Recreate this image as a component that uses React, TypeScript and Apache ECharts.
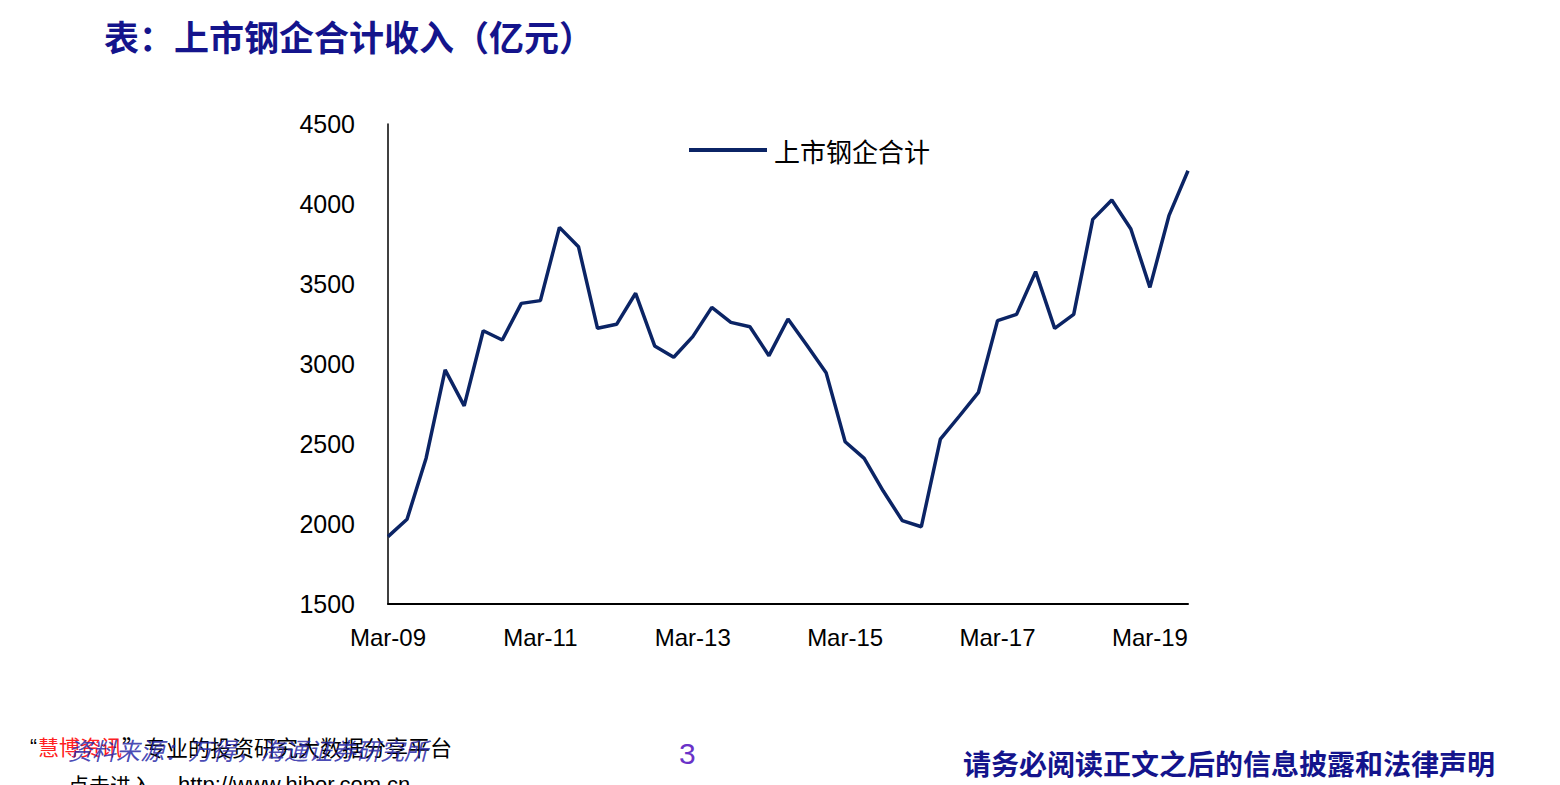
import React, { useEffect, useRef } from "react";
import * as echarts from "echarts";

const months = ["Mar", "Jun", "Sep", "Dec"];
const categories: string[] = [];
for (let y = 9; y <= 19; y++) {
  for (const m of months) {
    categories.push(`${m}-${String(y).padStart(2, "0")}`);
  }
}
categories.splice(43);

const seriesName = "上市钢企合计";
const revenue = [
  1921, 2030, 2411, 2963, 2738, 3208, 3150, 3379, 3396, 3854, 3733, 3223,
  3248, 3442, 3113, 3042, 3171, 3354, 3260, 3233, 3052, 3281, 3115, 2946,
  2514, 2410, 2206, 2021, 1983, 2531, 2675, 2823, 3271, 3310, 3577, 3223,
  3310, 3904, 4025, 3844, 3479, 3927, 4208,
];

const titleText = "表：上市钢企合计收入（亿元）";
const footerRight = "请务必阅读正文之后的信息披露和法律声明";
const pageNo = "3";
const sourceText = "资料来源：万得，海通证券研究所";

export default function App() {
  const ref = useRef<HTMLDivElement>(null);
  useEffect(() => {
    if (!ref.current) return;
    const chart = echarts.init(ref.current, null, { renderer: "svg" });
    const cjk = "'Noto Sans CJK SC', sans-serif";
    const latin = "'Liberation Sans', Arial, sans-serif";
    chart.setOption({
      animation: false,
      backgroundColor: "#ffffff",
      grid: { left: 388, right: 372, top: 124, bottom: 181 },
      legend: {
        left: 684,
        top: 132,
        icon: "rect",
        itemWidth: 78,
        itemHeight: 4,
        itemGap: 10,
        data: [seriesName],
        textStyle: { fontSize: 26, color: "#000", fontFamily: cjk, padding: [0, 0, 0, 2] },
      },
      xAxis: {
        type: "category",
        data: categories,
        boundaryGap: false,
        axisLine: { show: true, lineStyle: { color: "#000", width: 2 } },
        axisTick: { show: false },
        axisLabel: {
          interval: 7,
          fontSize: 24,
          color: "#000",
          margin: 21,
          fontFamily: latin,
        },
        splitLine: { show: false },
      },
      yAxis: {
        type: "value",
        min: 1500,
        max: 4500,
        interval: 500,
        axisLine: { show: true, lineStyle: { color: "#000", width: 1.5 } },
        axisTick: { show: false },
        axisLabel: {
          fontSize: 25,
          color: "#000",
          margin: 33,
          fontFamily: latin,
          formatter: (v: number) => String(v),
        },
        splitLine: { show: false },
      },
      series: [
        {
          name: seriesName,
          type: "line",
          data: revenue,
          symbol: "none",
          itemStyle: { color: "#0b2465" },
          lineStyle: { color: "#0b2465", width: 3.5 },
        },
      ],
      graphic: [
        {
          type: "text",
          left: 104,
          top: 18,
          style: {
            text: titleText,
            fontSize: 35,
            fontWeight: "bold",
            fill: "#14148c",
            fontFamily: cjk,
          },
        },
        {
          type: "text",
          left: 30,
          top: 735,
          style: {
            text: "“",
            fontSize: 21,
            fill: "#000",
            fontFamily: latin,
          },
        },
        {
          type: "text",
          left: 38,
          top: 735,
          style: {
            text: "慧博资讯",
            fontSize: 21,
            fill: "#ff2020",
            fontFamily: cjk,
          },
        },
        {
          type: "text",
          left: 122,
          top: 735,
          style: {
            text: "”专业的投资研究大数据分享平台",
            fontSize: 22,
            fill: "#000",
            fontFamily: cjk,
          },
        },
        {
          type: "text",
          left: 68,
          top: 737,
          style: {
            text: sourceText,
            fontSize: 24,
            fill: "#2a2aa8",
            fontFamily: cjk,
            fontStyle: "italic",
            opacity: 0.85,
          },
        },
        {
          type: "text",
          left: 68,
          top: 773,
          style: {
            text: "点击进入",
            fontSize: 21,
            fill: "#000",
            fontFamily: cjk,
          },
        },
        {
          type: "text",
          left: 178,
          top: 773,
          style: {
            text: "http://www.hibor.com.cn",
            fontSize: 22,
            fill: "#000",
            fontFamily: latin,
          },
        },
        {
          type: "text",
          left: 679,
          top: 738,
          style: {
            text: pageNo,
            fontSize: 30,
            fill: "#6a32c8",
            fontFamily: latin,
          },
        },
        {
          type: "text",
          left: 963,
          top: 749,
          style: {
            text: footerRight,
            fontSize: 28,
            fontWeight: "bold",
            fill: "#14148c",
            fontFamily: cjk,
          },
        },
      ],
    });
    return () => chart.dispose();
  }, []);
  return (
    <div
      ref={ref}
      style={{ position: "absolute", left: 0, top: 0, width: 1560, height: 785 }}
    />
  );
}
